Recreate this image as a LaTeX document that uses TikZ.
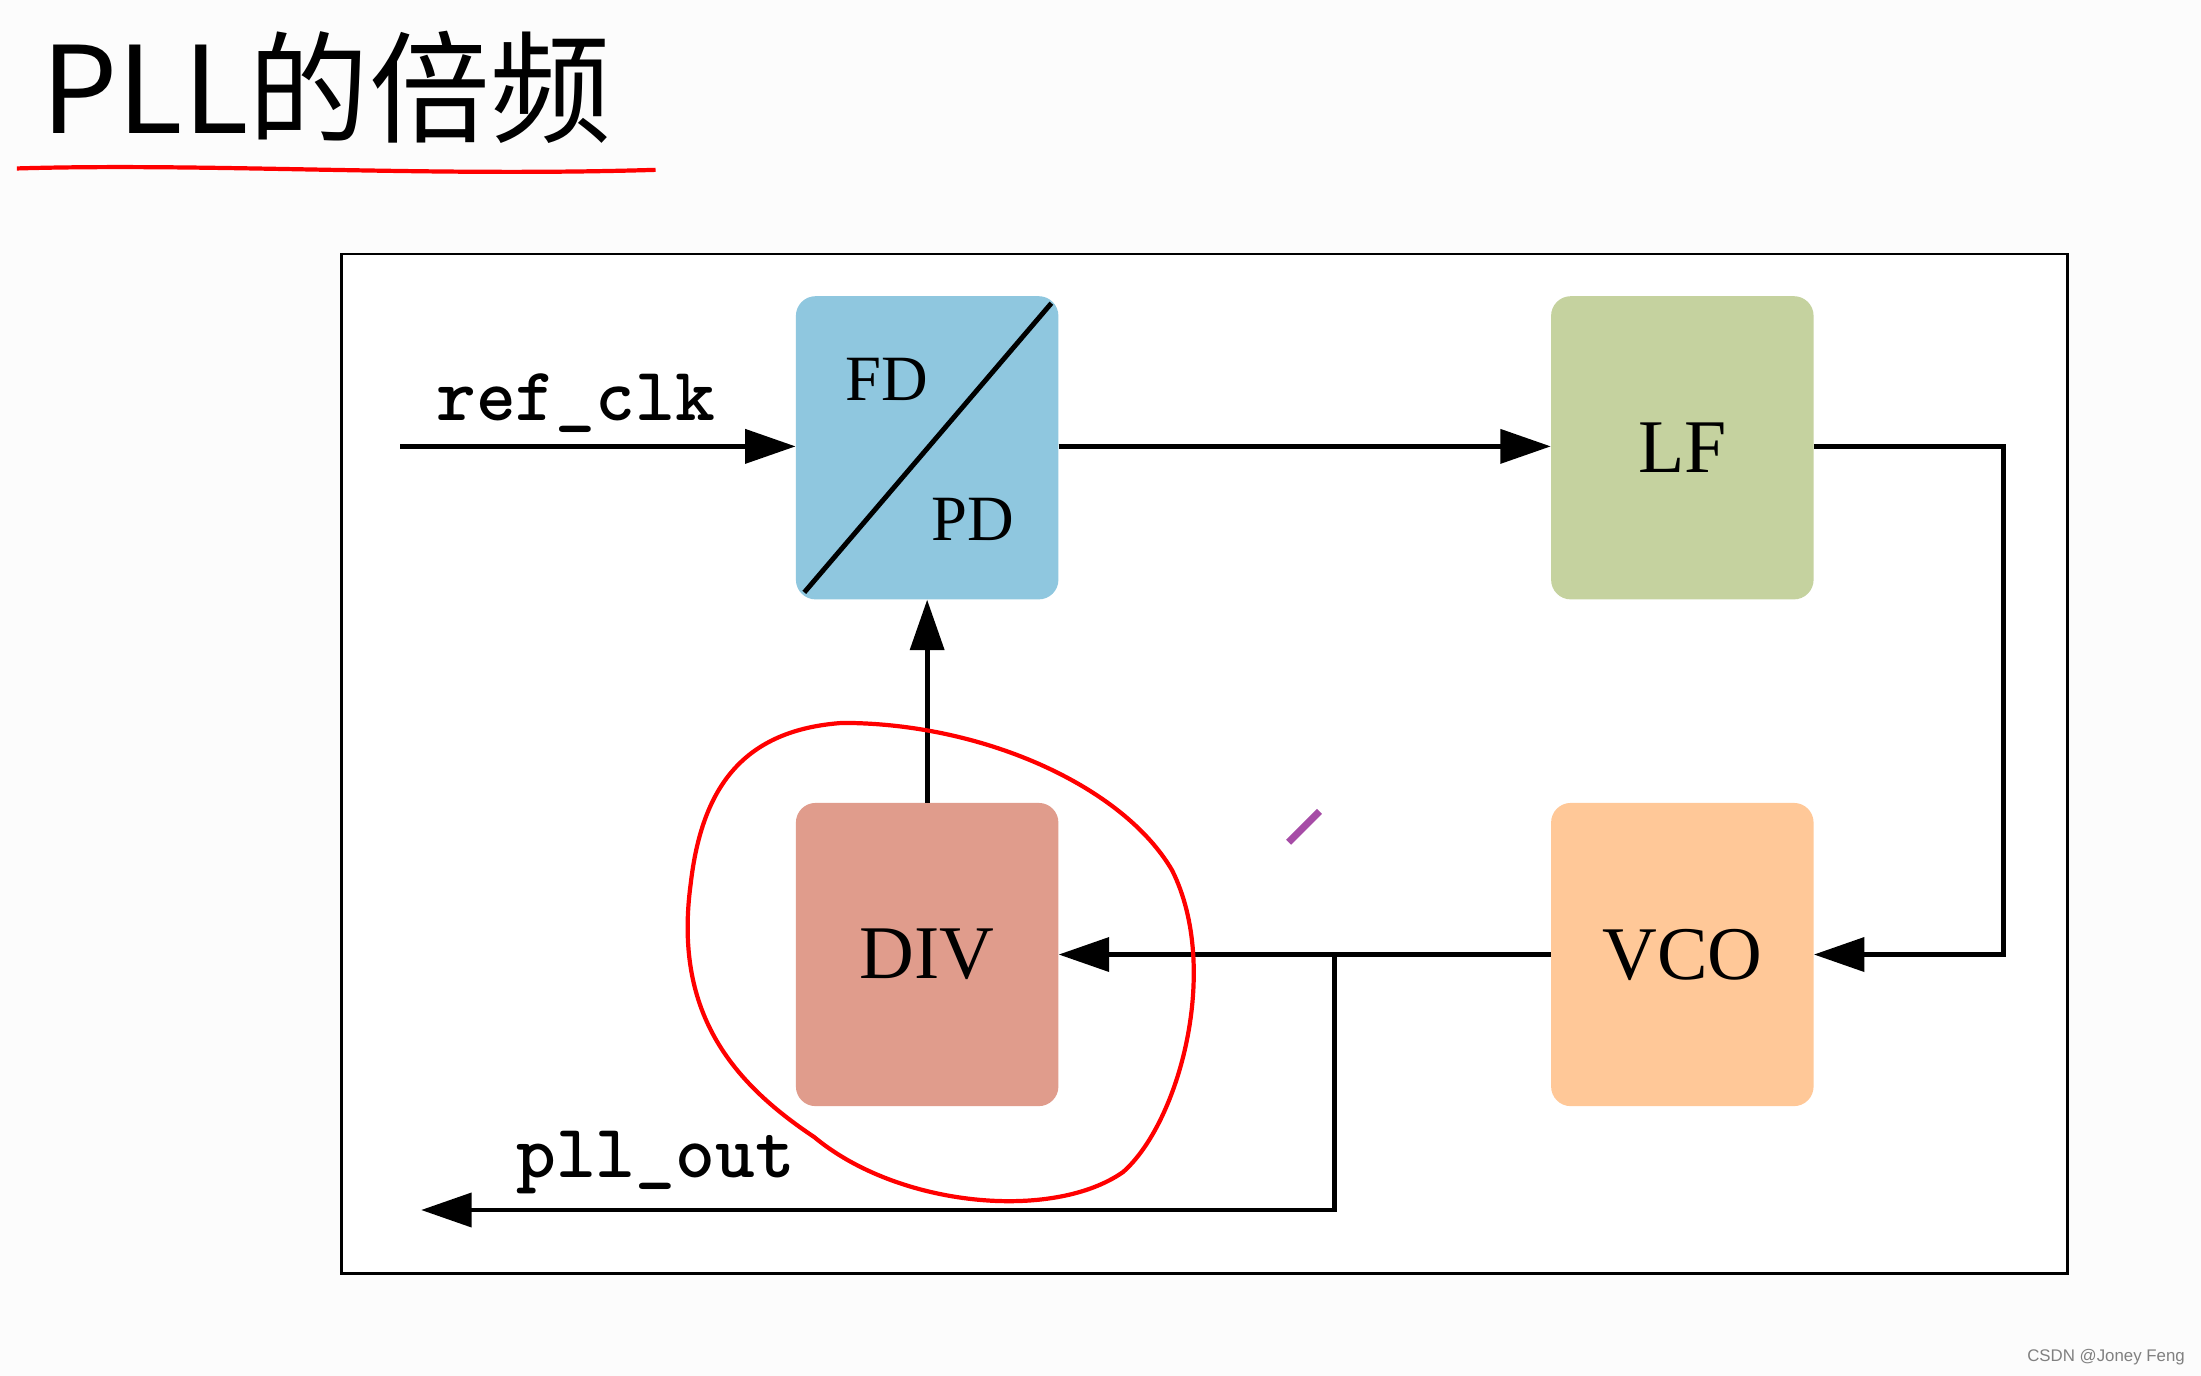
\documentclass[tikz,border=0pt]{standalone}
\usepackage{fontspec}
\setmainfont{Liberation Serif}
\newfontfamily\cjk{Noto Sans CJK SC}
\newfontfamily\lbs{Liberation Sans}
\usetikzlibrary{arrows.meta}
\definecolor{fdc}{HTML}{8FC7DF}
\definecolor{lfc}{HTML}{C5D29F}
\definecolor{divc}{HTML}{E09C8C}
\definecolor{vcoc}{HTML}{FFC898}
\definecolor{bgc}{HTML}{FCFCFC}
\begin{document}
\begin{tikzpicture}[x=1pt,y=-1pt,
  blk/.style={draw=none,rounded corners=14pt,minimum width=187pt,minimum height=216pt,inner sep=0pt,font=\fontsize{54}{60}\selectfont},
  wire/.style={line width=3.5pt,-{Triangle[length=36pt,width=24pt]}},
  lbl/.style={font=\ttfamily\bfseries\fontsize{54}{60}\selectfont}]
\useasboundingbox (0,0) rectangle (1568,980);
\fill[bgc] (0,0) rectangle (1568,980);
\node[font=\cjk\fontsize{86}{94}\selectfont,anchor=west] (title) at (26,62) {PLL的倍频};
\draw[red,line width=3pt] (12,120) .. controls (150,116) and (300,126) .. (467,121);
\draw[line width=2pt,fill=white] (243,181) rectangle (1473,907);
\node[blk,fill=fdc] (fd) at (660.5,319) {};
\draw[line width=3.5pt] (749,216) -- (573,422);
\node[font=\fontsize{46}{52}\selectfont] (fdt) at (632,270) {FD};
\node[font=\fontsize{46}{52}\selectfont] (pdt) at (693,370) {PD};
\node[blk,fill=lfc] (lf) at (1198.5,319) {LF};
\node[blk,fill=divc] (div) at (660.5,680) {DIV};
\node[blk,fill=vcoc] (vco) at (1198.5,680) {VCO};
\coordinate (rin) at (285,318);
\coordinate (lfr) at (1427,318);
\coordinate (vr) at (1427,680);
\coordinate (br) at (951,680);
\coordinate (bd) at (951,862);
\coordinate (pout) at (300,862);
\draw[wire] (rin) -- (fd.west|-rin);
\draw[wire] (fd.east|-rin) -- (lf.west|-rin);
\draw[wire] (lf.east|-lfr) -- (lfr) -- (vr) -- (vco.east);
\draw[wire] (vco.west) -- (div.east);
\draw[wire] (br) -- (bd) -- (pout);
\draw[wire] (div.north) -- (fd.south);
\node[lbl] (rc) at (410,287) {ref\_clk};
\node[lbl] (po) at (467,828) {pll\_out};
\draw[red,line width=3pt] (600,515) .. controls (700,515) and (800,560) .. (835,620)
  .. controls (870,690) and (840,800) .. (800,835)
  .. controls (750,870) and (640,860) .. (580,810)
  .. controls (520,770) and (480,720) .. (492,630)
  .. controls (500,560) and (530,520) .. (600,515);
\draw[violet!70,line width=5pt] (918,600) -- (940,578);
\node[font=\lbs\fontsize{12}{14}\selectfont,text=gray,anchor=east] (wm) at (1560,967) {CSDN @Joney Feng};
\end{tikzpicture}
\end{document}
